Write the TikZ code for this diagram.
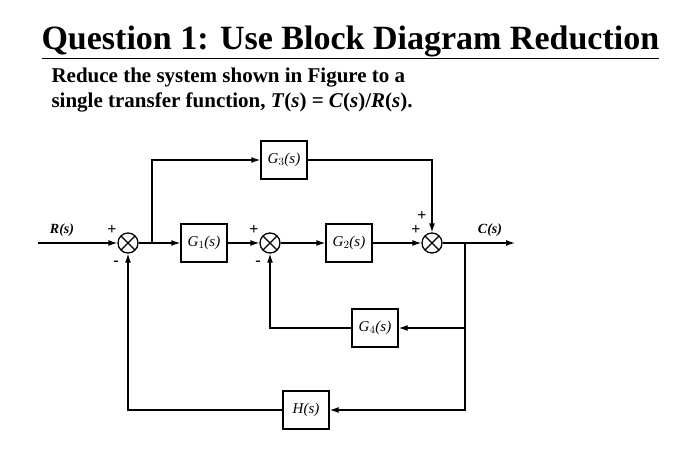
\documentclass[tikz,border=0pt]{standalone}
\usepackage{fontspec}
\setmainfont{Liberation Serif}
\usetikzlibrary{positioning,arrows.meta}
\tikzset{
  block/.style={draw, line width=1.3pt, minimum width=46pt, minimum height=38pt, font=\fontsize{15}{18}\selectfont\itshape},
  junction/.style={draw, line width=1.3pt, circle, minimum size=20pt, inner sep=0pt, path picture={
      \draw[line width=1.3pt] (path picture bounding box.north west) -- (path picture bounding box.south east)
            (path picture bounding box.south west) -- (path picture bounding box.north east);}},
  sig/.style={line width=1.3pt, -{Latex[length=9pt,width=6pt]}},
  sign/.style={font=\fontsize{16}{18}\selectfont\bfseries, inner sep=1pt}
}
\begin{document}
\begin{tikzpicture}[x=1pt,y=1pt]
\useasboundingbox (0,0) rectangle (700,-461);
% heading
\node[anchor=west, font=\fontsize{34}{38}\selectfont\bfseries] (title) at (38,-42) {\underline{Question 1: Use Block Diagram Reduction}};
\node[anchor=north west, align=left, font=\fontsize{21}{25}\selectfont\bfseries] (task) at (48,-64)
  {Reduce the system shown in Figure to a\\ single transfer function, \textit{T}(\textit{s}) = \textit{C}(\textit{s})/\textit{R}(\textit{s}).};
% blocks
\node[junction] (s1) at (128,-243) {};
\node[block] (g1) at (204,-243) {G$_1$(s)};
\node[junction] (s2) at (270,-243) {};
\node[block] (g2) at (349,-243) {G$_2$(s)};
\node[junction] (s3) at (432,-243) {};
\node[block] (g3) at (284,-160) {G$_3$(s)};
\node[block] (g4) at (375,-328) {G$_4$(s)};
\node[block] (h) at (306,-410) {H(s)};
\coordinate (in) at (38,-243);
\coordinate (out) at (515,-243);
\coordinate (split) at (152,-243);
\coordinate (tap) at (465,-243);
% signals
\node[sign, font=\fontsize{14}{16}\selectfont\bfseries\itshape] (rl) at (62,-230) {R(s)};
\node[sign, font=\fontsize{14}{16}\selectfont\bfseries\itshape] (cl) at (490,-230) {C(s)};
\draw[sig] (in) -- (s1);
\draw[sig] (s1) -- (g1);
\draw[sig] (g1) -- (s2);
\draw[sig] (s2) -- (g2);
\draw[sig] (g2) -- (s3);
\draw[sig] (s3) -- (out);
\draw[sig] (split) |- (g3);
\draw[sig] (g3) -| (s3);
\draw[sig] (tap) |- (g4);
\draw[sig] (g4) -| (s2);
\draw[sig] (tap) |- (h);
\draw[sig] (h) -| (s1);
% signs
\node[sign] (p1) at (112,-230) {+};
\node[sign] (m1) at (116,-263) {-};
\node[sign] (p2) at (254,-230) {+};
\node[sign] (m2) at (258,-263) {-};
\node[sign] (p3) at (416,-230) {+};
\node[sign] (p4) at (422,-216) {+};
\end{tikzpicture}
\end{document}
